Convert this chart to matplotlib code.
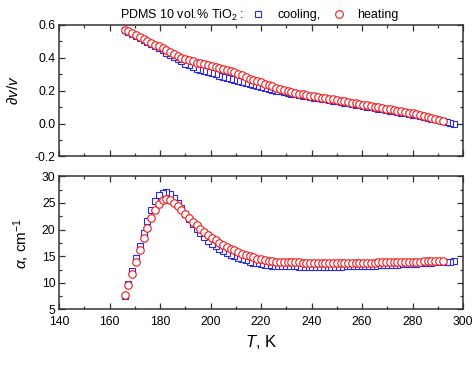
"""Thermal expansion and absorption of PDMS 10 vol.% TiO2 versus temperature."""

import matplotlib

matplotlib.use("Agg")
import matplotlib.pyplot as plt
import numpy as np
from matplotlib.lines import Line2D
from matplotlib.ticker import FormatStrFormatter, MultipleLocator

plt.rcParams["font.family"] = ["Liberation Sans", "DejaVu Sans"]
plt.rcParams["mathtext.fontset"] = "custom"
plt.rcParams["mathtext.rm"] = "Liberation Sans"
plt.rcParams["mathtext.it"] = "Liberation Sans:italic"
plt.rcParams["axes.unicode_minus"] = False

# Temperature grids (K), 1.5 K steps
T_COOL = np.arange(166, 297, 1.5)   # 166 ... 296.5
T_HEAT = np.arange(166, 292.5, 1.5)  # 166 ... 292

# dv/v, cooling (blue squares)
DV_COOL = [
    0.565, 0.554, 0.543, 0.532, 0.520, 0.509, 0.497, 0.484, 0.470, 0.457,
    0.444, 0.431, 0.418, 0.405, 0.390, 0.377, 0.364, 0.353, 0.343, 0.334,
    0.325, 0.318, 0.311, 0.305, 0.298, 0.291, 0.285, 0.278, 0.271, 0.265,
    0.258, 0.251, 0.245, 0.239, 0.232, 0.226, 0.220, 0.214, 0.208, 0.203,
    0.199, 0.195, 0.190, 0.186, 0.182, 0.178, 0.174, 0.170, 0.166, 0.162,
    0.158, 0.154, 0.150, 0.146, 0.142, 0.138, 0.134, 0.130, 0.126, 0.122,
    0.118, 0.114, 0.110, 0.106, 0.102, 0.098, 0.094, 0.090, 0.086, 0.082,
    0.078, 0.074, 0.070, 0.066, 0.062, 0.058, 0.054, 0.049, 0.045, 0.040,
    0.035, 0.030, 0.025, 0.020, 0.014, 0.008, 0.003, -0.002,
]
# dv/v, heating (red circles)
DV_HEAT = [
    0.570, 0.559, 0.548, 0.536, 0.525, 0.514, 0.502, 0.490, 0.478, 0.468,
    0.457, 0.446, 0.434, 0.422, 0.411, 0.400, 0.390, 0.383, 0.377, 0.370,
    0.365, 0.360, 0.354, 0.348, 0.343, 0.337, 0.331, 0.325, 0.318, 0.311,
    0.303, 0.293, 0.283, 0.273, 0.265, 0.257, 0.250, 0.242, 0.234, 0.225,
    0.216, 0.208, 0.201, 0.195, 0.190, 0.186, 0.182, 0.178, 0.174, 0.170,
    0.166, 0.162, 0.158, 0.154, 0.150, 0.146, 0.142, 0.138, 0.134, 0.130,
    0.126, 0.122, 0.118, 0.114, 0.110, 0.106, 0.102, 0.098, 0.094, 0.090,
    0.086, 0.082, 0.078, 0.074, 0.070, 0.066, 0.062, 0.056, 0.051, 0.045,
    0.040, 0.034, 0.028, 0.021, 0.014,
]

# absorption coefficient alpha (cm^-1), cooling
A_COOL = [
    7.5, 9.7, 12.2, 14.6, 17.0, 19.4, 21.6, 23.6, 25.3, 26.4,
    26.9, 27.0, 26.6, 25.9, 25.0, 24.0, 23.0, 22.0, 21.1, 20.2,
    19.4, 18.6, 17.9, 17.3, 16.9, 16.4, 15.9, 15.6, 15.3, 15.0,
    14.7, 14.4, 14.2, 14.0, 13.8, 13.65, 13.5, 13.4, 13.3, 13.22,
    13.18, 13.15, 13.12, 13.1, 13.08, 13.07, 13.06, 13.05, 13.05, 13.05,
    13.04, 13.04, 13.04, 13.04, 13.05, 13.05, 13.05, 13.06, 13.07, 13.08,
    13.1, 13.12, 13.14, 13.16, 13.18, 13.2, 13.23, 13.26, 13.29, 13.32,
    13.35, 13.38, 13.42, 13.46, 13.5, 13.54, 13.58, 13.62, 13.66, 13.7,
    13.74, 13.78, 13.82, 13.86, 13.9, 13.95, 14.0, 14.05,
]
# absorption coefficient alpha (cm^-1), heating
A_HEAT = [
    7.8, 9.6, 11.7, 14.0, 16.2, 18.4, 20.3, 22.2, 23.7, 24.8,
    25.5, 25.8, 25.5, 25.0, 24.4, 23.6, 22.9, 22.2, 21.5, 20.8,
    20.1, 19.5, 18.9, 18.4, 18.0, 17.5, 17.1, 16.7, 16.4, 16.1,
    15.8, 15.5, 15.2, 15.0, 14.8, 14.55, 14.4, 14.25, 14.15, 14.05,
    13.95, 13.92, 13.89, 13.87, 13.85, 13.84, 13.82, 13.8, 13.79, 13.78,
    13.77, 13.76, 13.76, 13.75, 13.75, 13.75, 13.75, 13.75, 13.75, 13.76,
    13.76, 13.77, 13.77, 13.78, 13.79, 13.8, 13.81, 13.82, 13.83, 13.84,
    13.86, 13.87, 13.89, 13.9, 13.92, 13.93, 13.95, 13.97, 13.99, 14.01,
    14.03, 14.05, 14.07, 14.09, 14.12,
]

BLUE = "#2a2ae6"
RED = "#f01818"
SPINE = "#333333"


def style_axis(ax, y_lo, y_hi, y_major, y_minor):
    ax.set_xlim(140, 300)
    ax.set_ylim(y_lo, y_hi)
    ax.xaxis.set_major_locator(MultipleLocator(20))
    ax.xaxis.set_minor_locator(MultipleLocator(10))
    ax.yaxis.set_major_locator(MultipleLocator(y_major))
    ax.yaxis.set_minor_locator(MultipleLocator(y_minor))
    ax.tick_params(which="both", direction="in", top=True, right=True,
                   labelsize=8.7, colors=SPINE, labelcolor="black", width=0.9)
    ax.tick_params(which="major", length=4, pad=2.5)
    ax.tick_params(which="minor", length=2.5)
    for s in ax.spines.values():
        s.set_color(SPINE)
        s.set_linewidth(1.1)


def draw(ax, t_cool, y_cool, t_heat, y_heat):
    # cooling runs from high to low temperature
    ax.plot(t_cool[::-1], y_cool[::-1], ls="none", marker="s", ms=5.0,
            mfc="white", mec=BLUE, mew=0.8)
    ax.plot(t_heat, y_heat, ls="none", marker="o", ms=5.4,
            mfc="white", mec=RED, mew=0.8)


fig = plt.figure(figsize=(4.74, 3.74), dpi=100)
ax1 = fig.add_axes([0.1245, 0.5816, 0.8523, 0.3524])
ax2 = fig.add_axes([0.1245, 0.1725, 0.8523, 0.3561])

draw(ax1, T_COOL, DV_COOL, T_HEAT, DV_HEAT)
style_axis(ax1, -0.2, 0.6, 0.2, 0.1)
ax1.yaxis.set_major_formatter(FormatStrFormatter("%.1f"))
ax1.tick_params(labelbottom=False)
ax1.set_ylabel(r"$\partial v/v$", fontsize=11)
ax1.yaxis.set_label_coords(-0.094, 0.5)

draw(ax2, T_COOL, A_COOL, T_HEAT, A_HEAT)
style_axis(ax2, 5, 30, 5, 2.5)
ax2.tick_params(axis="x", which="major", pad=5)
ax2.set_ylabel(r"$\alpha$, cm$^{-1}$", fontsize=11)
ax2.yaxis.set_label_coords(-0.068, 0.5)
ax2.set_xlabel(r"$T$, K", fontsize=12, labelpad=3)

fig.text(244 / 474, 1 - 15 / 374, r"PDMS 10 vol.% TiO$_2$ :",
         ha="right", va="center", fontsize=9)
handles = [
    Line2D([], [], ls="none", marker="s", ms=5, mfc="white", mec=BLUE, mew=0.8),
    Line2D([], [], ls="none", marker="o", ms=5.5, mfc="white", mec=RED, mew=0.8),
]
fig.legend(handles, ["cooling,", "heating"], loc="center left",
           bbox_to_anchor=(252 / 474, 1 - 15 / 374), ncol=2, frameon=False,
           fontsize=9, handlelength=1.0, handletextpad=1.0, columnspacing=1.0,
           borderpad=0, borderaxespad=0)

fig.savefig("out.png", dpi=100)
